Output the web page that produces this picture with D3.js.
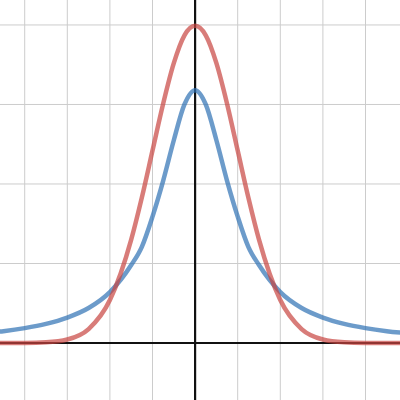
<!DOCTYPE html>
<html><head><meta charset="utf-8">
<script src="https://cdn.jsdelivr.net/npm/d3@7"></script>
<style>body{margin:0;background:#fff}svg{display:block}</style>
</head><body><svg id="chart" width="400" height="400"></svg>
<script>
// sample points (right half, mirrored)
const halfX = [0, 0.25, 0.5, 0.75, 1, 1.25, 1.5, 2, 2.5, 3, 3.5, 4, 4.5, 5];
const redHalf = [0.399, 0.387, 0.352, 0.301, 0.242, 0.183, 0.130, 0.054, 0.0175, 0.0044, 0.0009, 0.0001, 0, 0];
const blueHalf = [0.318, 0.300, 0.255, 0.204, 0.159, 0.121, 0.098, 0.064, 0.044, 0.032, 0.024, 0.0187, 0.0149, 0.0122];
const xTicks = [-4, -3, -2, -1, 0, 1, 2, 3, 4];
const yTicks = [0, 0.1, 0.2, 0.3, 0.4];

(() => {
    const svg = d3.select("#chart");
    const x = d3.scaleLinear().domain([-4.58, 4.81]).range([0, 400]);
    const y = d3.scaleLinear().domain([-0.0717, 0.4314]).range([400, 0]);

    svg.selectAll(".vg").data(xTicks).join("line")
        .attr("x1", d => x(d)).attr("x2", d => x(d)).attr("y1", 0).attr("y2", 400)
        .attr("stroke", "#ccc").attr("stroke-width", 1);
    svg.selectAll(".hg").data(yTicks).join("line")
        .attr("y1", d => y(d)).attr("y2", d => y(d)).attr("x1", 0).attr("x2", 400)
        .attr("stroke", "#ccc").attr("stroke-width", 1);

    svg.append("line").attr("x1", x(0)).attr("x2", x(0)).attr("y1", 0).attr("y2", 400)
        .attr("stroke", "#111").attr("stroke-width", 2.2);
    svg.append("line").attr("y1", y(0)).attr("y2", y(0)).attr("x1", 0).attr("x2", 400)
        .attr("stroke", "#111").attr("stroke-width", 2.2);

    function mirror(vals) {
        const pts = halfX.map((h, i) => [h, vals[i]]);
        return pts.slice(1).map(p => [-p[0], p[1]]).reverse().concat(pts);
    }
    const line = d3.line().x(d => x(d[0])).y(d => y(d[1])).curve(d3.curveMonotoneX);

    [[blueHalf, "#2d70b3"], [redHalf, "#c74440"]].forEach(([vals, col]) => {
        svg.append("path").attr("d", line(mirror(vals)))
            .attr("fill", "none").attr("stroke", col).attr("stroke-opacity", 0.7)
            .attr("stroke-width", 4.5).attr("stroke-linejoin", "round");
    });
})();
</script></body></html>
